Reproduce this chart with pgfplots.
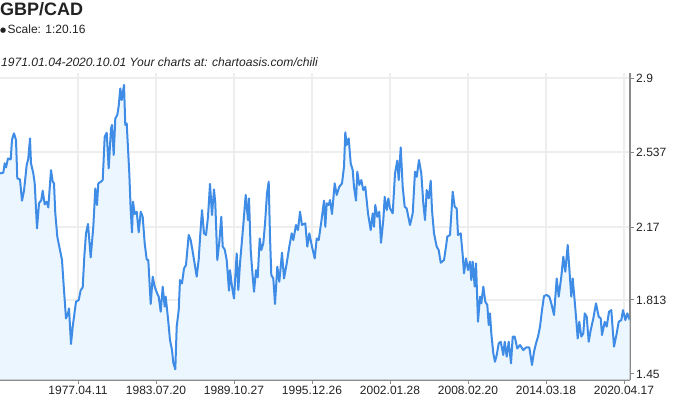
\documentclass[border=0pt]{standalone}
\usepackage{pgfplots}
\usepackage{pgfplotstable}
\usepackage{fontspec}
\setmainfont{Liberation Sans}
\newfontfamily\djv{DejaVu Sans}
\pgfplotsset{compat=1.18}
\definecolor{linec}{HTML}{3F8CE6}
\definecolor{fillc}{HTML}{ECF6FE}
\definecolor{gridc}{HTML}{EEEEEE}
\definecolor{axisc}{HTML}{8A8A8A}
\definecolor{txt}{HTML}{222222}
\pgfplotstableread{
x y
0 2.433
3.3 2.436
4.7 2.482
6 2.462
8 2.506
10.7 2.501
12 2.599
14 2.629
16 2.596
17.3 2.408
20 2.403
22 2.299
24 2.348
26.7 2.474
28.3 2.506
30 2.604
31 2.482
33.3 2.433
34.7 2.384
37 2.163
39 2.286
41.3 2.302
42.7 2.348
44.7 2.281
46.7 2.294
48.3 2.266
51 2.449
52.7 2.392
54 2.384
55.3 2.237
57.3 2.123
59.3 2.074
62 2.008
64 1.861
66 1.722
68 1.747
69 1.771
71 1.597
72.7 1.682
76 1.804
78.7 1.812
80.7 1.861
82.7 1.874
84.3 2.025
86 2.139
88 2.185
90.7 2.021
93.3 2.171
95.3 2.359
97 2.278
98.3 2.384
101 2.392
102.7 2.400
104.7 2.612
106.7 2.632
108.7 2.457
111 2.653
112 2.670
113.7 2.523
115.3 2.702
117.3 2.719
118.7 2.763
120.3 2.849
121.7 2.792
124 2.866
125.3 2.670
126.7 2.678
129.3 2.433
130.7 2.253
132 2.144
133 2.294
134.7 2.234
136.7 2.245
138.7 2.144
140.7 2.245
142.7 2.220
144.7 2.090
146.7 2.011
148.3 2.008
150.7 1.793
152.7 1.927
154.7 1.878
157.3 1.842
158.7 1.829
160.7 1.755
162.7 1.878
164.7 1.780
165.7 1.829
168 1.722
170 1.616
172 1.567
173.3 1.505
175.3 1.473
176.7 1.682
178.7 1.763
180 1.910
182 1.894
184 1.967
186 1.984
188.7 2.131
190.7 2.106
192.7 2.049
196.7 1.927
198.7 2.011
200 2.114
202 2.253
204 2.139
206 2.131
208 2.220
210 2.381
212 2.229
214 2.354
215.3 2.286
217.3 2.008
219.3 2.098
221.3 2.220
222.7 2.074
224.7 2.060
226.7 2.008
229 1.858
230 1.959
232 1.878
234 1.820
236.7 2.041
238.3 1.861
240 1.992
243.3 2.180
245.7 2.327
248 2.204
249 2.310
250.7 2.057
252.3 1.951
254 1.853
256 1.959
257.7 1.923
259.7 2.114
261.3 2.057
263.3 2.090
265 2.185
267 2.335
268.7 2.392
270 2.123
271.3 1.935
273.3 1.918
275 1.793
277.3 1.976
279.3 1.902
282 2.044
284 1.918
286.7 1.992
289.3 2.074
291.7 2.139
293.3 2.106
296 2.180
298 2.155
300 2.245
302 2.180
305.3 2.188
307.3 2.074
309.3 2.139
312 2.074
314.7 2.016
316.7 2.114
318.7 2.106
321.3 2.196
324 2.299
325.3 2.171
326.7 2.286
328.7 2.278
330 2.302
332 2.234
334.7 2.384
336.7 2.327
339.3 2.367
342 2.384
344 2.465
345.3 2.634
346.7 2.572
348.7 2.604
350.7 2.482
352.7 2.449
354 2.367
356 2.299
357.3 2.441
359.3 2.376
361.3 2.400
363.3 2.351
365.3 2.367
368 2.237
370.7 2.155
372.7 2.237
374 2.171
375.3 2.278
377.3 2.220
379.3 2.245
381 2.093
383.3 2.204
384.7 2.318
386.7 2.253
388.3 2.310
390 2.261
392.7 2.237
395 2.433
397.3 2.495
398.7 2.400
400.7 2.560
402.7 2.367
404.7 2.269
406.7 2.261
410 2.180
412.7 2.237
415 2.441
416.7 2.416
419 2.498
421.3 2.433
423.3 2.286
425 2.204
426.7 2.351
428.7 2.310
430.7 2.397
432 2.253
434 2.139
436.7 2.074
438.7 2.057
440.7 1.995
444 2.008
446 2.074
447.3 2.123
450 2.131
452.7 2.343
454.7 2.269
456.7 2.261
458 2.131
460.7 2.139
462.7 2.033
464 1.943
466 2.016
468 1.959
470 2.000
471.3 1.910
472.7 2.000
474.7 1.878
476 1.992
478 1.706
480 1.829
481.3 1.796
483.3 1.878
485.3 1.804
487.3 1.788
488.7 1.690
490 1.747
491.3 1.649
493.3 1.551
495 1.510
496.7 1.543
498.7 1.600
500.7 1.608
503.3 1.543
504.7 1.608
506.7 1.535
508.7 1.608
511 1.502
512.7 1.633
514.7 1.633
517.3 1.575
520 1.592
523.3 1.567
526 1.580
529.3 1.580
532 1.494
534 1.559
536 1.600
538 1.633
540 1.682
542 1.763
544 1.832
546.7 1.837
549.3 1.829
551.3 1.796
554 1.739
556.7 1.918
558.7 1.829
561.3 1.927
563.3 2.025
565.3 1.951
567.7 2.082
570 1.918
571.3 1.829
572.7 1.918
574.3 1.829
576 1.731
577.7 1.624
579.3 1.706
581.3 1.633
583.3 1.649
584.7 1.747
586.7 1.731
588.7 1.608
590.7 1.665
593.3 1.722
596 1.796
598.7 1.731
600.7 1.722
602 1.641
604.7 1.706
606.7 1.682
609 1.755
611.3 1.763
614 1.584
616.7 1.649
618.7 1.706
621.3 1.714
623 1.763
625.3 1.714
627.3 1.747
629.7 1.714
}\dataA
\begin{document}
\begin{tikzpicture}[x=1pt,y=1pt]
\useasboundingbox (0,-20.3) rectangle (700,379.7);
\begin{axis}[
 at={(0,0)},anchor=south west,
 width=629.7pt,height=306.7pt,scale only axis,
 xmin=0,xmax=629.7,ymin=1.422,ymax=2.9245,
 axis x line*=bottom,axis y line*=right,
 axis line style={draw=axisc,line width=1.6pt,-},
 xtick={78,156,234,312,390,468,546,624},
 xticklabels={1977.04.11,1983.07.20,1989.10.27,1995.12.26,2002.01.28,2008.02.20,2014.03.18,2020.04.17},
 ytick={1.45,1.813,2.17,2.537,2.9},
 yticklabels={1.45,1.813,2.17,2.537,2.9},
 tick style={draw=axisc,line width=1pt},
 tick align=outside,major tick length=4pt,
 grid=major,grid style={draw=gridc,line width=1.3pt},
 ticklabel style={font=\fontsize{12}{14}\selectfont,text=txt},
 xticklabel style={yshift=1.5pt},
 yticklabel style={xshift=-1pt},
 clip=true,
]
\addplot[fill=fillc,draw=none,forget plot] table[x=x,y=y] {\dataA} \closedcycle;
\addplot[draw=linec,line width=2pt,line join=round,no marks] table[x=x,y=y] {\dataA};
\end{axis}
\node[anchor=base west,inner sep=0,text=txt,font=\fontsize{18}{20}\selectfont\bfseries] at (0,363.7) {GBP/CAD};
\node[anchor=base west,inner sep=0,text=txt,font=\fontsize{7}{8}\selectfont\djv] at (0,347.6) {●};
\node[anchor=base west,inner sep=0,text=txt,font=\fontsize{12}{14}\selectfont] at (7.5,345.7) {Scale: 1:20.16};
\node[anchor=base west,inner sep=0,text=txt,font=\fontsize{12.1}{14}\selectfont\itshape] at (1,312.7) {1971.01.04-2020.10.01 Your charts at: chartoasis.com/chili};
\end{tikzpicture}
\end{document}
